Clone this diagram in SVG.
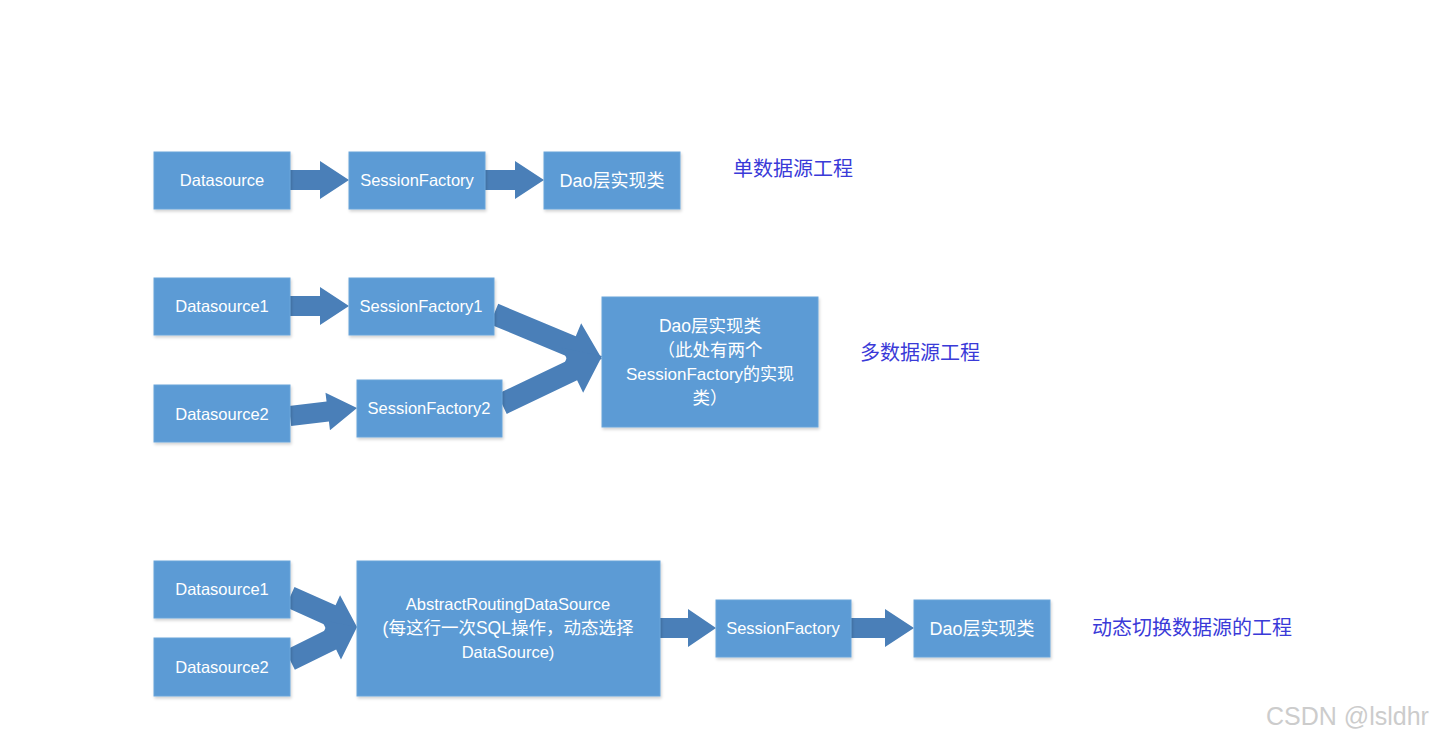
<svg xmlns="http://www.w3.org/2000/svg" width="1437" height="742" viewBox="0 0 1437 742">
<defs>
<style>
.box{fill:#5b9bd5;stroke:#6aa5da;stroke-width:1;filter:url(#sh)}
.arr{fill:#4a7fb8}
.t{fill:#ffffff;font-family:"Liberation Sans","Noto Sans CJK SC",sans-serif;font-size:16.5px;text-anchor:middle;dominant-baseline:central}
.lbl{fill:#3a3ad8;font-family:"Liberation Sans","Noto Sans CJK SC",sans-serif;font-size:20px;dominant-baseline:central}
.wm{fill:#cccccc;font-family:"Liberation Sans",sans-serif;font-size:25px}
</style>
<filter id="sh" x="-10%" y="-10%" width="120%" height="130%">
<feDropShadow dx="1" dy="2" stdDeviation="1.5" flood-color="#000" flood-opacity="0.18"/>
</filter>
</defs>
<rect width="1437" height="742" fill="#ffffff"/>

<g id="connectors">
<path class="arr" transform="translate(290,180)" d="M0,-10 H30 V-19 L59,0 L30,19 V10 H0 Z"/>
<path class="arr" transform="translate(485,180)" d="M0,-10 H30 V-19 L59,0 L30,19 V10 H0 Z"/>
<path class="arr" transform="translate(290,306)" d="M0,-10 H30 V-19 L59,0 L30,19 V10 H0 Z"/>
<path class="arr" transform="translate(290,416) rotate(-6.8)" d="M0,-10 H38 V-19 L67.5,0 L38,19 V10 H0 Z"/>
<path class="arr" transform="translate(494,314) rotate(22.6)" d="M0,-11 H84 V-25 L117,0 L84,25 V11 H0 Z"/>
<path class="arr" transform="translate(502,404) rotate(-25.6)" d="M0,-11 H78 V-25 L111,0 L78,25 V11 H0 Z"/>
<path class="arr" transform="translate(290,597) rotate(24.1)" d="M0,-11 H45 V-22 L73.4,0 L45,22 V11 H0 Z"/>
<path class="arr" transform="translate(290,660) rotate(-26.2)" d="M0,-11 H46 V-22 L74.7,0 L46,22 V11 H0 Z"/>
<path class="arr" transform="translate(660,628)" d="M0,-10 H28 V-19 L56,0 L28,19 V10 H0 Z"/>
<path class="arr" transform="translate(851,628)" d="M0,-10 H34 V-19 L63,0 L34,19 V10 H0 Z"/>
</g>

<g id="r1-ds"><rect class="box" x="154" y="152" width="136" height="57"/><text class="t" x="222" y="180">Datasource</text></g>
<g id="r1-sf"><rect class="box" x="349" y="152" width="136" height="57"/><text class="t" x="417" y="180">SessionFactory</text></g>
<g id="r1-dao"><rect class="box" x="544" y="152" width="136" height="57"/><text class="t" x="612" y="181" style="font-size:18px">Dao层实现类</text></g>
<g id="lbl1"><text class="lbl" x="733" y="169">单数据源工程</text></g>

<g id="r2-ds1"><rect class="box" x="154" y="278" width="136" height="57"/><text class="t" x="222" y="306">Datasource1</text></g>
<g id="r2-sf1"><rect class="box" x="349" y="278" width="145" height="57"/><text class="t" x="421" y="306">SessionFactory1</text></g>
<g id="r2-ds2"><rect class="box" x="154" y="385" width="136" height="57"/><text class="t" x="222" y="414">Datasource2</text></g>
<g id="r2-sf2"><rect class="box" x="357" y="380" width="145" height="57"/><text class="t" x="429" y="408">SessionFactory2</text></g>
<g id="r2-dao"><rect class="box" x="602" y="297" width="216" height="130"/>
<text class="t" x="710" y="326" style="font-size:17.5px">Dao层实现类</text>
<text class="t" x="710" y="350" style="font-size:17.5px">（此处有两个</text>
<text class="t" x="710" y="374" style="font-size:17px">SessionFactory的实现</text>
<text class="t" x="710" y="398" style="font-size:17.5px">类）</text></g>
<g id="lbl2"><text class="lbl" x="860" y="353">多数据源工程</text></g>

<g id="r3-ds1"><rect class="box" x="154" y="561" width="136" height="57"/><text class="t" x="222" y="589">Datasource1</text></g>
<g id="r3-ds2"><rect class="box" x="154" y="638" width="136" height="58"/><text class="t" x="222" y="667">Datasource2</text></g>
<g id="r3-abs"><rect class="box" x="357" y="561" width="303" height="135"/>
<text class="t" x="508" y="604">AbstractRoutingDataSource</text>
<text class="t" x="508" y="628" style="font-size:17.5px">(每这行一次SQL操作，动态选择</text>
<text class="t" x="508" y="652">DataSource)</text></g>
<g id="r3-sf"><rect class="box" x="716" y="600" width="135" height="57"/><text class="t" x="783" y="628">SessionFactory</text></g>
<g id="r3-dao"><rect class="box" x="914" y="600" width="136" height="57"/><text class="t" x="982" y="629" style="font-size:18px">Dao层实现类</text></g>
<g id="lbl3"><text class="lbl" x="1092" y="628">动态切换数据源的工程</text></g>

<text class="wm" x="1266" y="725">CSDN @lsldhr</text>
</svg>
